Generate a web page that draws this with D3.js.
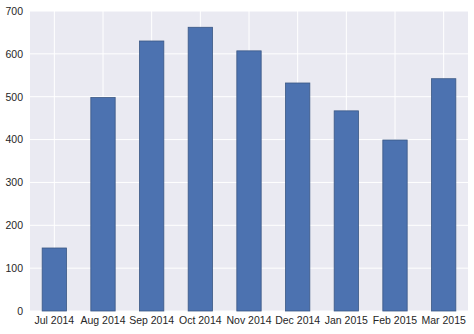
<!DOCTYPE html>
<html><head><meta charset="utf-8">
<script src="https://cdn.jsdelivr.net/npm/d3@7"></script>
<style>body{margin:0;background:#fff}svg{display:block}text{font-family:"Liberation Sans",Arial,sans-serif}</style>
</head><body><svg id="c" width="474" height="334"></svg>
<script>
const categories = ["Jul 2014","Aug 2014","Sep 2014","Oct 2014","Nov 2014","Dec 2014","Jan 2015","Feb 2015","Mar 2015"];
const values = [147, 498, 630, 662, 607, 532, 467, 399, 542];
const yTicks = [0,100,200,300,400,500,600,700];

const svg = d3.select("#c");
const m = {l:30, r:6, t:11, b:23};
const W = 474, H = 334;
const x = d3.scaleBand().domain(categories).range([m.l, W-m.r]).paddingInner(0.5).paddingOuter(0.25);
const y = d3.scaleLinear().domain([0,700]).range([H-m.b, m.t]);

svg.append("rect").attr("x",m.l).attr("y",m.t).attr("width",W-m.r-m.l).attr("height",H-m.b-m.t).attr("fill","#EAEAF2");
svg.append("g").selectAll("line").data(yTicks).join("line")
  .attr("x1",m.l).attr("x2",W-m.r).attr("y1",d=>y(d)).attr("y2",d=>y(d)).attr("stroke","#fff").attr("stroke-width",1);
svg.append("g").selectAll("line").data(categories).join("line")
  .attr("y1",m.t).attr("y2",H-m.b).attr("x1",d=>x(d)+x.bandwidth()/2).attr("x2",d=>x(d)+x.bandwidth()/2).attr("stroke","#fff").attr("stroke-width",1);

svg.append("g").selectAll("rect").data(values).join("rect")
  .attr("x",(d,i)=>x(categories[i])).attr("width",x.bandwidth())
  .attr("y",d=>y(d)).attr("height",d=>y(0)-y(d))
  .attr("fill","#4C72B0").attr("stroke","#3A5784").attr("stroke-width",0.8);

const yAxis = svg.append("g").attr("transform",`translate(${m.l},0)`).call(d3.axisLeft(y).tickValues(yTicks).tickSize(0).tickPadding(7));
yAxis.select(".domain").remove();
yAxis.selectAll("text").attr("font-size",10.5).attr("fill","#262626").style("font-family","'Liberation Sans',Arial,sans-serif");
const xAxis = svg.append("g").attr("transform",`translate(0,${H-m.b})`).call(d3.axisBottom(x).tickSize(0).tickPadding(6));
xAxis.select(".domain").remove();
xAxis.selectAll("text").attr("font-size",10.5).attr("fill","#262626").style("font-family","'Liberation Sans',Arial,sans-serif");
</script></body></html>
